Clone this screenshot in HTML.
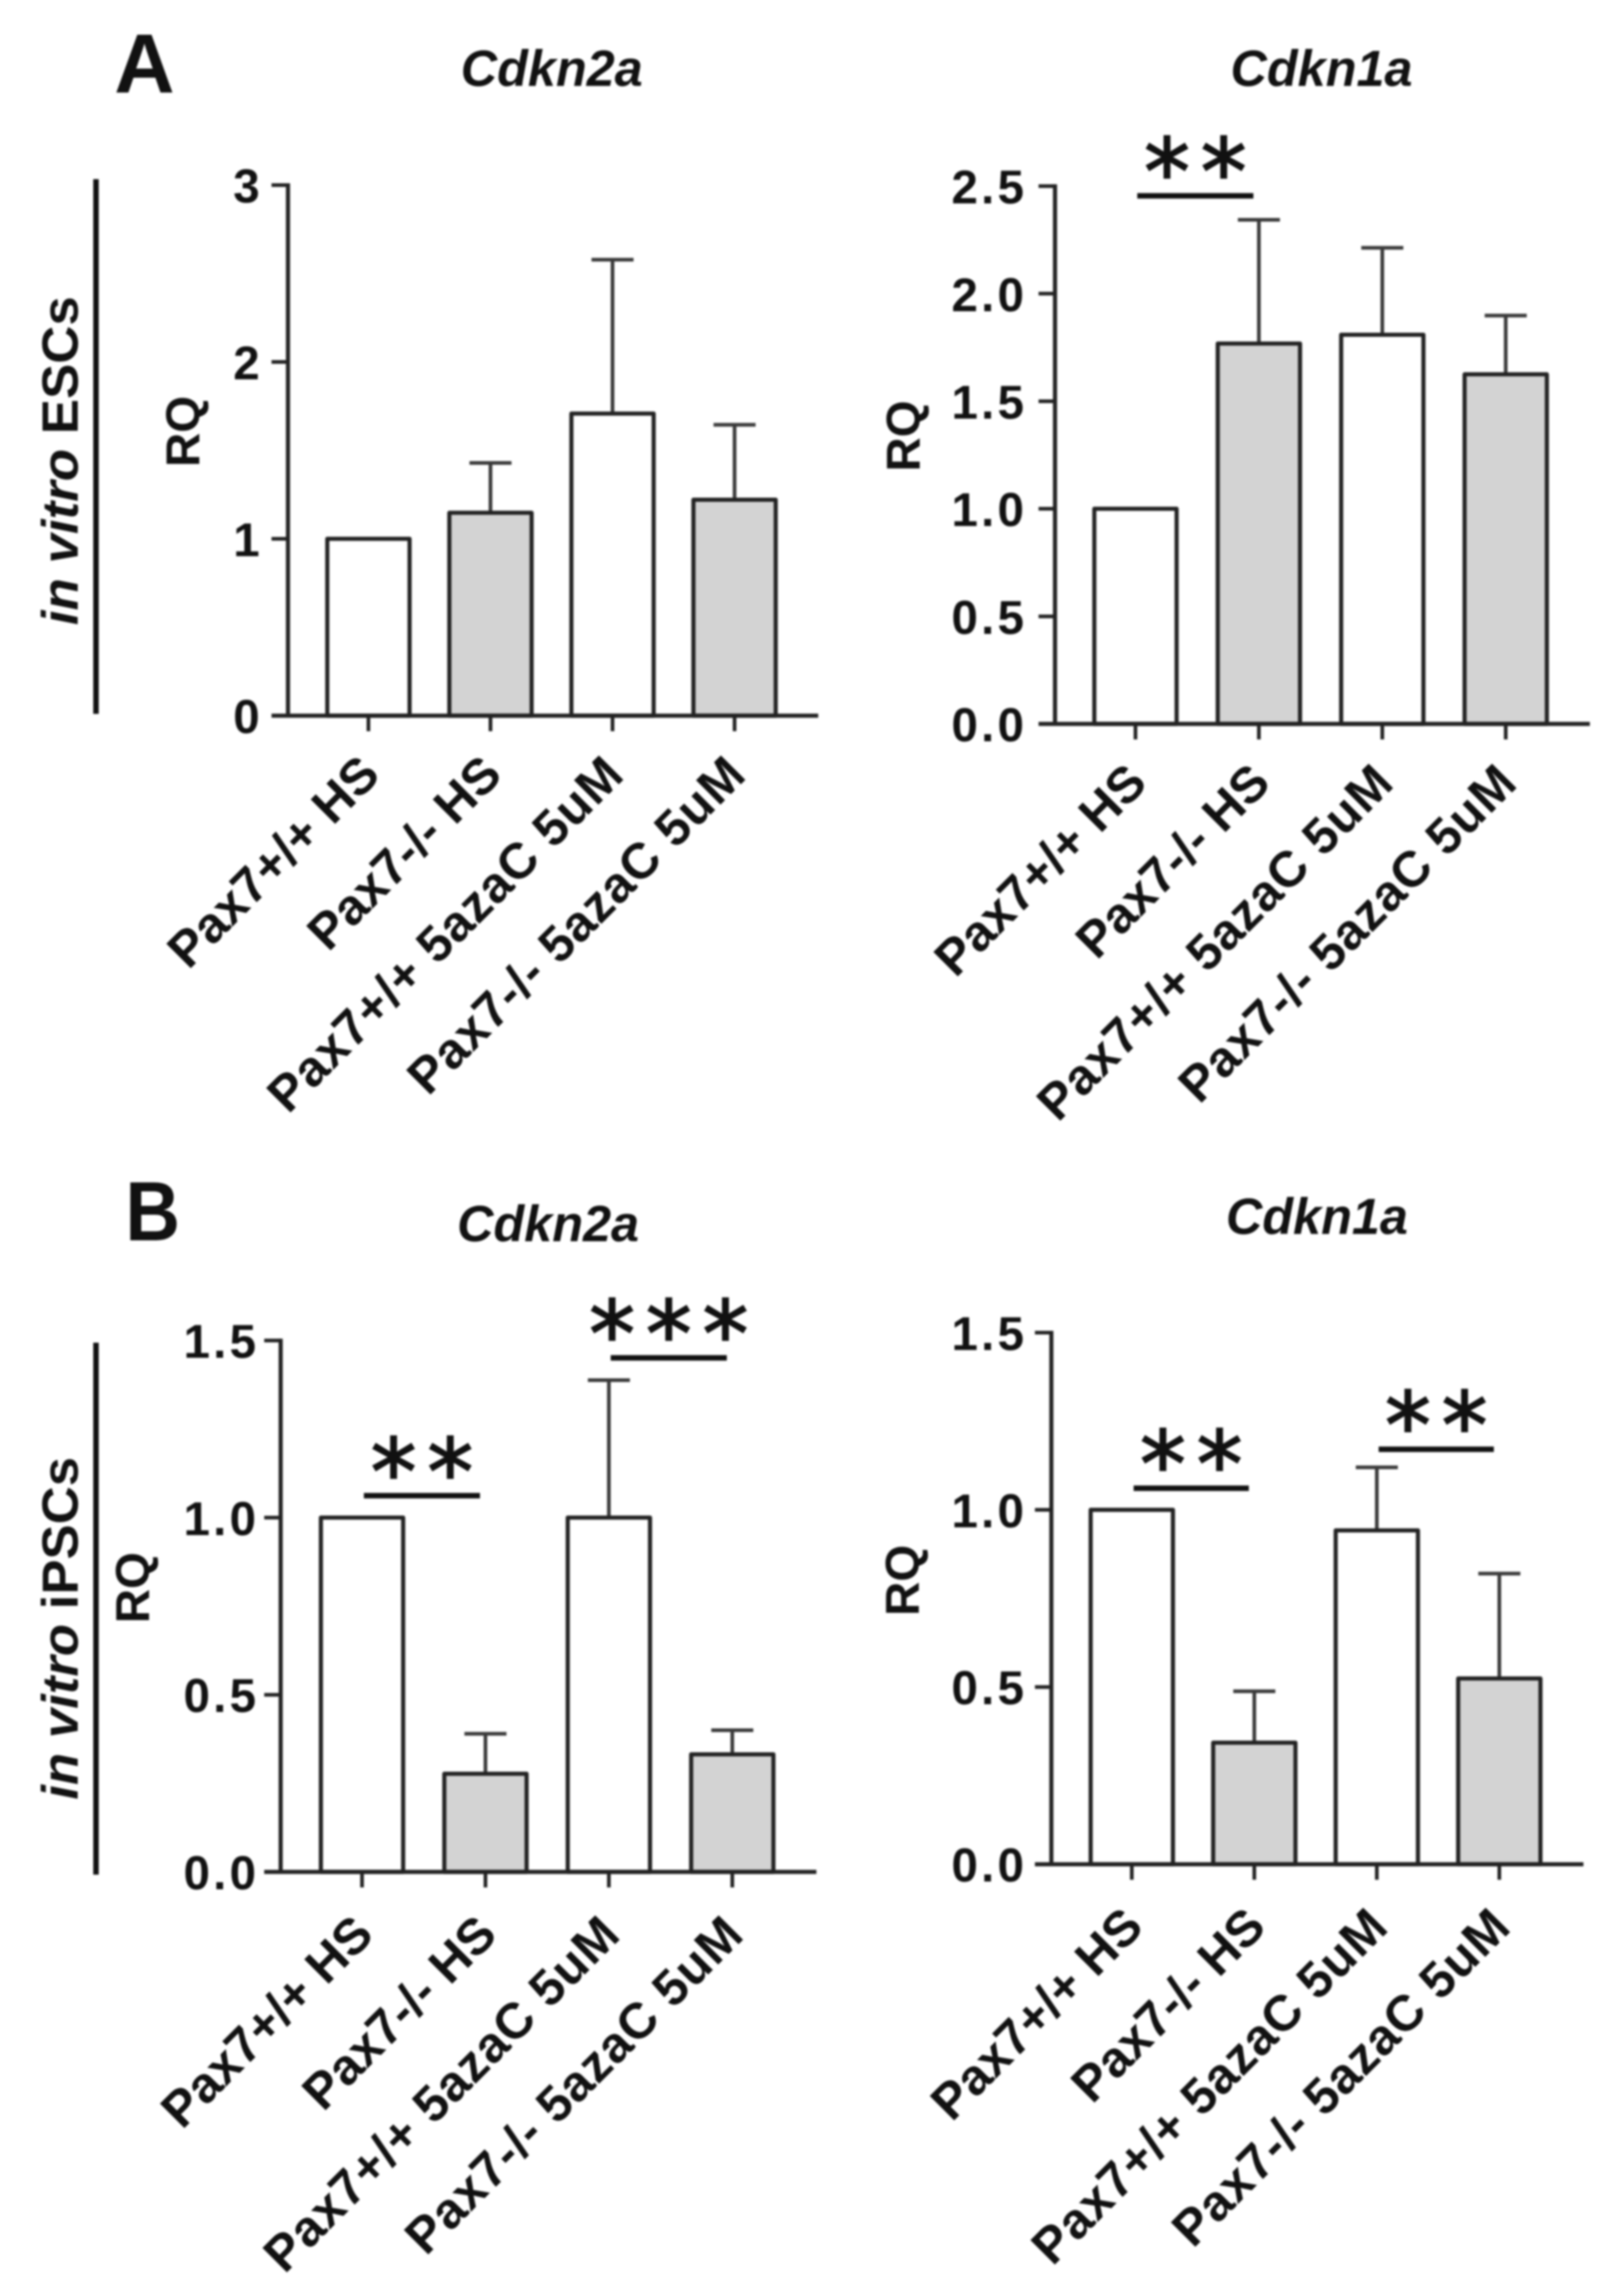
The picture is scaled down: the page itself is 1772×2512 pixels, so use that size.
<!DOCTYPE html>
<html lang="en">
<head>
<meta charset="utf-8">
<title>Cdkn2a and Cdkn1a expression in ESCs and iPSCs</title>
<style>
html,body{margin:0;padding:0;background:#fff;width:1772px;height:2512px;overflow:hidden}
svg{display:block;filter:blur(1px)}
text{font-family:"Liberation Sans",sans-serif;fill:#111}
.cat,.tick,.rq,.title,.side,.letter{font-weight:bold}
.title{font-style:italic;font-size:56px}
.star{font-family:"DejaVu Sans",sans-serif;font-size:100px;stroke:#111;stroke-width:2px}
</style>
</head>
<body>
<svg id="figure" xmlns="http://www.w3.org/2000/svg" width="1772" height="2512" viewBox="0 0 1772 2512">
  <rect width="1772" height="2512" fill="#fff"/>
  <text class="letter" x="125" y="101" font-size="92" textLength="66" lengthAdjust="spacingAndGlyphs">A</text>
  <text class="letter" x="137" y="1357" font-size="92" textLength="60" lengthAdjust="spacingAndGlyphs">B</text>
  <line x1="105" y1="196" x2="105" y2="781" stroke="#111" stroke-width="6"/>
  <line x1="105" y1="1469" x2="105" y2="2051" stroke="#111" stroke-width="6"/>
  <text class="side" transform="translate(85,684) rotate(-90)" font-size="56" textLength="360" lengthAdjust="spacingAndGlyphs"><tspan font-style="italic">in vitro</tspan> ESCs</text>
  <text class="side" transform="translate(85,1969) rotate(-90)" font-size="56" textLength="375" lengthAdjust="spacingAndGlyphs"><tspan font-style="italic">in vitro</tspan> iPSCs</text>
</svg>
<script>
const categories = ['Pax7+/+ HS', 'Pax7-/- HS', 'Pax7+/+ 5azaC 5uM', 'Pax7-/- 5azaC 5uM'];

const a1Values = [1, 1.147, 1.708, 1.221];
const a1Errors = [0, 0.282, 0.870, 0.424];
const a1Ticks = ['0', '1', '2', '3'];

const a2Values = [1, 1.768, 1.809, 1.625];
const a2Errors = [0, 0.575, 0.404, 0.273];
const a2Ticks = ['0.0', '0.5', '1.0', '1.5', '2.0', '2.5'];
const a2Sig = [{ from: 0, to: 1, level: 2.455, stars: 2 }];

const b1Values = [1, 0.277, 1, 0.332];
const b1Errors = [0, 0.113, 0.388, 0.068];
const b1Ticks = ['0.0', '0.5', '1.0', '1.5'];
const b1Sig = [{ from: 0, to: 1, level: 1.062, stars: 2 }, { from: 2, to: 3, level: 1.451, stars: 3 }];

const b2Values = [1, 0.343, 0.942, 0.524];
const b2Errors = [0, 0.145, 0.178, 0.296];
const b2Ticks = ['0.0', '0.5', '1.0', '1.5'];
const b2Sig = [{ from: 0, to: 1, level: 1.061, stars: 2 }, { from: 2, to: 3, level: 1.171, stars: 2 }];

const panelFrames = [
  { id: 'a1', title: 'Cdkn2a', values: a1Values, errors: a1Errors, ticks: a1Ticks, sig: [],
    axisX: 315, axisEnd: 895, yTop: 202.5, yZero: 783, firstCenter: 403, step: 133.5,
    titleX: 504, titleY: 94, rqX: 218, rqY: 472, labelGap: 31, catDy: 67 },
  { id: 'a2', title: 'Cdkn1a', values: a2Values, errors: a2Errors, ticks: a2Ticks, sig: a2Sig,
    axisX: 1154, axisEnd: 1739, yTop: 203.6, yZero: 792, firstCenter: 1242, step: 135,
    titleX: 1346, titleY: 94, rqX: 1006, rqY: 477, labelGap: 34, catDy: 67 },
  { id: 'b1', title: 'Cdkn2a', values: b1Values, errors: b1Errors, ticks: b1Ticks, sig: b1Sig,
    axisX: 307, axisEnd: 893, yTop: 1466.6, yZero: 2048, firstCenter: 396, step: 135,
    titleX: 500, titleY: 1358, rqX: 163, rqY: 1737, labelGap: 27, catDy: 71 },
  { id: 'b2', title: 'Cdkn1a', values: b2Values, errors: b2Errors, ticks: b2Ticks, sig: b2Sig,
    axisX: 1150, axisEnd: 1732, yTop: 1458, yZero: 2039.6, firstCenter: 1238, step: 134,
    titleX: 1341, titleY: 1350, rqX: 1005, rqY: 1729, labelGap: 30, catDy: 71 }
];

const svgNS = 'http://www.w3.org/2000/svg';
const root = document.getElementById('figure');

function make(parent, tag, attrs, content) {
  const node = document.createElementNS(svgNS, tag);
  for (const key in attrs) node.setAttribute(key, attrs[key]);
  if (content !== undefined) node.textContent = content;
  parent.appendChild(node);
  return node;
}

function drawPanel(p) {
  const maxTick = parseFloat(p.ticks[p.ticks.length - 1]);
  const yScale = v => p.yZero - (v / maxTick) * (p.yZero - p.yTop);
  const xScale = i => p.firstCenter + i * p.step;

  const group = make(root, 'g', {});
  
  

  const title = make(group, 'text', { class: 'title', x: p.titleX, y: p.titleY, textLength: 199, lengthAdjust: 'spacingAndGlyphs' }, p.title);
  
  

  const rq = make(group, 'text', { class: 'rq', 'font-size': 52, 'text-anchor': 'middle', transform: 'translate(' + p.rqX + ',' + p.rqY + ') rotate(-90)' }, 'RQ');
  
  

  p.values.forEach((value, i) => {
    const cx = xScale(i);
    if (p.errors[i] > 0) {
      const topY = yScale(value + p.errors[i]);
      const stem = make(group, 'line', { x1: cx, x2: cx, y1: yScale(value), y2: topY, stroke: '#3a3a3a', 'stroke-width': 4 });
      
      
      const cap = make(group, 'line', { x1: cx - 23, x2: cx + 23, y1: topY, y2: topY, stroke: '#3a3a3a', 'stroke-width': 4 });
      
      
    }
    const bar = make(group, 'rect', {
      x: cx - 45, y: yScale(value), width: 90, height: p.yZero - yScale(value),
      fill: i % 2 ? '#d3d3d3' : '#ffffff', stroke: '#222', 'stroke-width': 4.5, 'stroke-linejoin': 'round'
    });
    
    
  });

  const yAxis = make(group, 'line', { x1: p.axisX, x2: p.axisX, y1: p.yTop - 2, y2: p.yZero, stroke: '#222', 'stroke-width': 4.5 });
  
  
  const xAxis = make(group, 'line', { x1: p.axisX - 18, x2: p.axisEnd, y1: p.yZero, y2: p.yZero, stroke: '#222', 'stroke-width': 4.5 });
  
  

  p.ticks.forEach(label => {
    const y = yScale(parseFloat(label));
    const tick = make(group, 'line', { x1: p.axisX - 18, x2: p.axisX, y1: y, y2: y, stroke: '#222', 'stroke-width': 4 });
    
    
    const spacing = label.length > 1 ? 3.5 : 0;
    const text = make(group, 'text', { class: 'tick', x: p.axisX - p.labelGap + spacing, y: y + 19, 'font-size': 52, 'text-anchor': 'end', 'letter-spacing': spacing }, label);
    
    
  });

  categories.forEach((label, i) => {
    const cx = xScale(i);
    const tick = make(group, 'line', { x1: cx, x2: cx, y1: p.yZero, y2: p.yZero + 17, stroke: '#222', 'stroke-width': 4 });
    
    
    const text = make(group, 'text', { class: 'cat', 'font-size': 55, 'text-anchor': 'end', 'letter-spacing': label.length > 12 ? 0.9 : 0, transform: 'translate(' + (cx + 15) + ',' + (p.yZero + p.catDy) + ') rotate(-45)' }, label);
    
    
  });

  p.sig.forEach(s => {
    const x1 = xScale(s.from) + 2;
    const x2 = xScale(s.to) - 6;
    const y = yScale(s.level);
    const line = make(group, 'line', { x1: x1, x2: x2, y1: y, y2: y, stroke: '#111', 'stroke-width': 6 });
    
    
    const mid = (x1 + x2) / 2;
    for (let k = 0; k < s.stars; k++) {
      const sx = mid + (k - (s.stars - 1) / 2) * 62;
      const star = make(group, 'text', { class: 'star', x: sx, y: y + 9, 'text-anchor': 'middle' }, '*');
      
      
    }
  });
}

panelFrames.forEach(drawPanel);
</script>
</body>
</html>
